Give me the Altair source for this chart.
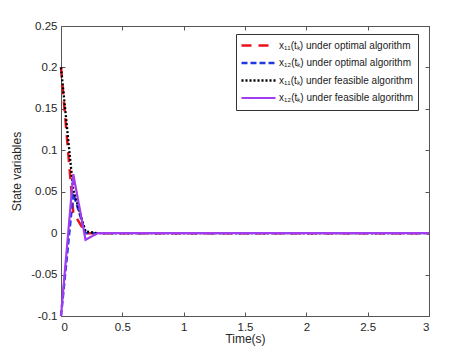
import altair as alt
import pandas as pd

# time instants (s)
t = [0.0, 0.1, 0.2, 0.3, 3.0]
x11_opt = [0.2, 0.025, 0.0, 0.0, 0.0]
x12_opt = [-0.1, 0.048, 0.0, 0.0, 0.0]
x11_feas = [0.2, 0.052, 0.002, 0.0, 0.0]
x12_feas = [-0.1, 0.071, -0.008, 0.0, 0.0]

labels = [
    "x\u2081\u2081(t\u2096) under optimal algorithm",
    "x\u2081\u2082(t\u2096) under optimal algorithm",
    "x\u2081\u2081(t\u2096) under feasible algorithm",
    "x\u2081\u2082(t\u2096) under feasible algorithm",
]
colors = ["#e8121c", "#2038e0", "#000000", "#a23cf0"]
dashes = [[10, 7], [6, 3], [2, 2], [1, 0]]
widths = [2.5, 2.2, 2.5, 2.5]

x_ticks = [0, 0.5, 1, 1.5, 2, 2.5, 3]
y_ticks = [-0.1, -0.05, 0, 0.05, 0.1, 0.15, 0.2, 0.25]

rows = []
for lab, ys in zip(labels, [x11_opt, x12_opt, x11_feas, x12_feas]):
    for ti, yi in zip(t, ys):
        rows.append({"t": ti, "v": yi, "series": lab})
df = pd.DataFrame(rows)

W, H = 368, 290
FONT = "Liberation Sans"
AX = "#262626"
BOX = "#555555"
lab_expr = "datum.value < 0 ? '-' + format(-datum.value, '~g') : format(datum.value, '~g')"

xs = alt.Scale(domain=[0, 3], nice=False, zero=False)
ys = alt.Scale(domain=[-0.1, 0.25], nice=False, zero=False)

leg = alt.Legend(
    title=None, orient="none", legendX=175, legendY=8,
    direction="vertical",
    fillColor="white", strokeColor="#333333", padding=4,
    symbolType="stroke", symbolSize=1156, symbolStrokeWidth=2.2,
    clipHeight=15, rowPadding=2.5, labelOffset=2,
    labelFont=FONT, labelFontSize=10, labelColor="#1a1a1a",
)

main = alt.Chart(df).mark_line().encode(
    x=alt.X("t:Q", scale=xs, axis=alt.Axis(
        orient="bottom", values=x_ticks, labelExpr=lab_expr, ticks=False, domain=False,
        grid=False, title="Time(s)", labelFont=FONT, labelFontSize=11.5, labelColor=AX,
        labelPadding=5, titleFont=FONT, titleFontSize=12, titleFontWeight="normal",
        titleColor=AX, titlePadding=1)),
    y=alt.Y("v:Q", scale=ys, axis=alt.Axis(
        orient="left", values=y_ticks, labelExpr=lab_expr, ticks=False, domain=False,
        grid=False, title="State variables", labelFont=FONT, labelFontSize=11.5,
        labelColor=AX, labelPadding=4, titleFont=FONT, titleFontSize=12,
        titleFontWeight="normal", titleColor=AX, titlePadding=7)),
    color=alt.Color("series:N", scale=alt.Scale(domain=labels, range=colors), legend=leg),
    strokeDash=alt.StrokeDash("series:N", scale=alt.Scale(domain=labels, range=dashes), legend=leg),
    strokeWidth=alt.StrokeWidth("series:N", scale=alt.Scale(domain=labels, range=widths), legend=None),
)

def box_axis(orient, offset, values):
    return alt.Axis(orient=orient, offset=offset, values=values, labels=False, title="",
                    domain=True, domainColor=BOX, domainWidth=1, ticks=True, tickSize=4,
                    tickColor=BOX, tickWidth=1, grid=False)

frame1 = alt.Chart(df).mark_line(opacity=0).encode(
    x=alt.X("t:Q", scale=xs, axis=box_axis("top", -H, x_ticks)),
    y=alt.Y("v:Q", scale=ys, axis=box_axis("right", -W, y_ticks)),
)
frame2 = alt.Chart(df).mark_line(opacity=0).encode(
    x=alt.X("t:Q", scale=xs, axis=box_axis("bottom", -H, x_ticks)),
    y=alt.Y("v:Q", scale=ys, axis=box_axis("left", -W, y_ticks)),
)

chart = alt.layer(main, frame1, frame2).resolve_axis(
    x="independent", y="independent"
).properties(
    width=W, height=H,
    autosize=alt.AutoSizeParams(type="none"),
    padding={"left": 53, "top": 18, "right": 37, "bottom": 31},
).configure_view(strokeWidth=0)

chart.save("out.html", embed_options={"renderer": "svg", "actions": False})
